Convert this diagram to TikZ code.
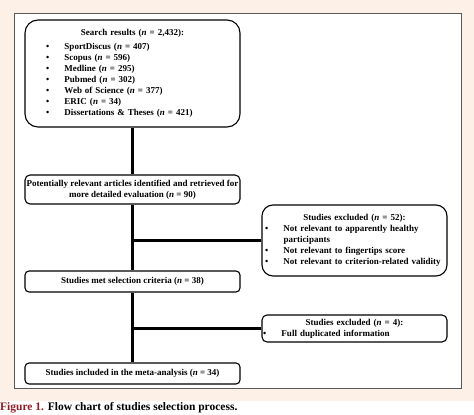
\documentclass[tikz,border=0pt]{standalone}
\usepackage{fontspec}
\setmainfont{Liberation Serif}
\usetikzlibrary{positioning, calc}
\definecolor{page color}{RGB}{253,240,231}
\definecolor{caption red}{RGB}{145,28,38}
\tikzset{wire/.style={line width=2.2pt}}
\tikzset{box/.style={draw, line width=1.1pt, fill=white, inner xsep=0pt, inner ysep=0pt, font=\fontsize{9}{11}\selectfont\bfseries}}
\tikzset{frame/.style={draw=black!65, fill=white, line width=0.8pt}}
\newcommand{\bitem}[2][3pt]{\hspace*{#1}\makebox[18.5pt][l]{\textbullet}#2\par}

\begin{document}
\begin{tikzpicture}[x=1pt, y=-1pt]
                \fill[page color] (0,0) rectangle (474,401);
                \useasboundingbox (0,0) rectangle (474,415);
                \draw[frame] (14,13) rectangle (461,388);

                \node[box, rounded corners=13pt, minimum width=215pt, minimum height=107pt, text width=215pt] (search) at (132.5,73.5) {%
                    \vspace*{3.5pt}{\centering Search results (\textit{n} = 2,432):\par}\raggedright
                    \bitem[21pt]{SportDiscus (\textit{n} = 407)}
                    \bitem[21pt]{Scopus (\textit{n} = 596)}
                    \bitem[21pt]{Medline (\textit{n} = 295)}
                    \bitem[21pt]{Pubmed (\textit{n} = 302)}
                    \bitem[21pt]{Web of Science (\textit{n} = 377)}
                    \bitem[21pt]{ERIC (\textit{n} = 34)}
                    \bitem[21pt]{Dissertations \& Theses (\textit{n} = 421)}};
                \node[box, rounded corners=5pt, minimum width=215pt, minimum height=29pt, align=center] (potential) at (132.5,189.5)
                    {Potentially relevant articles identified and retrieved for\\more detailed evaluation (\textit{n} = 90)};
                \node[box, rounded corners=11pt, minimum width=185pt, minimum height=71pt, text width=185pt] (excl52) at (354.5,240.5) {%
                    {\centering Studies excluded (\textit{n} = 52):\par}\raggedright
                    \bitem{Not relevant to apparently healthy}
                    \hspace*{21.5pt}participants\par
                    \bitem{Not relevant to fingertips score}
                    \bitem{Not relevant to criterion-related validity}\vspace*{7pt}};
                \node[box, rounded corners=4pt, minimum width=215pt, minimum height=21pt] (met) at (132.5,281.5)
                    {Studies met selection criteria (\textit{n} = 38)};
                \node[box, rounded corners=5pt, minimum width=185pt, minimum height=27pt, text width=185pt] (excl4) at (354.5,328.5) {%
                    {\centering Studies excluded (\textit{n} = 4):\par}\raggedright
                    \bitem[1pt]{Full duplicated information}};
                \node[box, rounded corners=4pt, minimum width=215pt, minimum height=21pt] (included) at (132.5,373.5)
                    {Studies included in the meta-analysis (\textit{n} = 34)};

                \draw[wire] (search) -- (potential);
                \draw[wire] (potential) -- (met);
                \draw[wire] (met) -- (included);
                \draw[wire] (excl52.west) -- (excl52.west -| potential.south);
                \draw[wire] (excl4.west) -- (excl4.west -| met.south);

                \node[anchor=base west, inner sep=0pt, font=\fontsize{11.5}{13}\selectfont\bfseries] (caption) at (0,410.5)
                    {\textcolor{caption red}{Figure 1.} Flow chart of studies selection process.};
            \end{tikzpicture}
\end{document}
